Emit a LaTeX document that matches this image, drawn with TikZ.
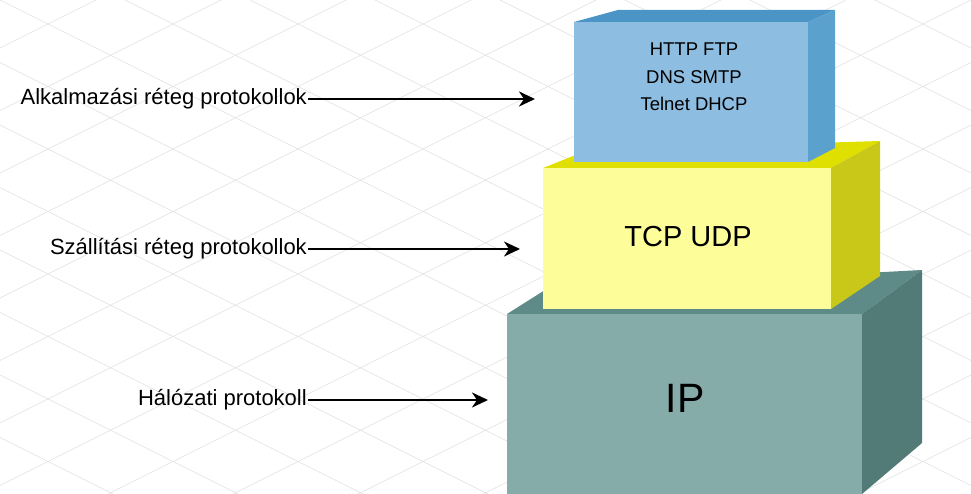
\documentclass[tikz,border=0pt]{standalone}
\usepackage{fontspec}
\setmainfont{Liberation Sans}
\usetikzlibrary{arrows.meta}
\definecolor{bluefront}{HTML}{8DBDE0}
\definecolor{bluetop}{HTML}{4A94C6}
\definecolor{blueside}{HTML}{5BA1CD}
\definecolor{yelfront}{HTML}{FDFD9A}
\definecolor{yeltop}{HTML}{E0E000}
\definecolor{yelside}{HTML}{C9C818}
\definecolor{tealfront}{HTML}{86ACAA}
\definecolor{tealtop}{HTML}{5E8B88}
\definecolor{tealside}{HTML}{527B78}

\begin{document}
\begin{tikzpicture}[
  x=1pt, y=-1pt,
  >=Stealth,
  lbl/.style={anchor=east, inner sep=1pt, font=\fontsize{22}{26}\selectfont},
  e/.style={-{Stealth[length=16pt,width=15pt,inset=5pt]}, line width=2.6pt},
  grid/.style={gray!25, line width=0.6pt}
]
\useasboundingbox (0,0) rectangle (971,494);
% background grid
\begin{scope}
  \clip (0,0) rectangle (971,494);
  \foreach \k in {-1250,-1125,...,1250}
  {
    \draw[grid] (\k,0) -- ++(1000,500);
    \draw[grid] (\k+971,0) -- ++(-1000,500);
  }
\end{scope}
% IP box
\fill[tealtop] (507,314) -- (545,290) -- (922,270) -- (862,314) -- cycle;
\fill[tealside] (862,314) -- (922,270) -- (922,443) -- (862,494) -- cycle;
\node[fill=tealfront, minimum width=355pt, minimum height=180pt, inner sep=0pt,
  anchor=north west, font=\fontsize{41}{46}\selectfont] (ip) at (507,314) {};
\node[font=\fontsize{41}{46}\selectfont] (iptxt) at (685,398) {IP};
% TCP/UDP box
\fill[yeltop] (543,168) -- (588,150) -- (880,141) -- (831,168) -- cycle;
\fill[yelside] (831,168) -- (880,141) -- (880,276) -- (831,309) -- cycle;
\node[fill=yelfront, minimum width=288pt, minimum height=141pt, inner sep=0pt,
  anchor=north west, font=\fontsize{29}{34}\selectfont] (tcp) at (543,168) {};
\node[font=\fontsize{29}{34}\selectfont] (tcptxt) at (688,237) {TCP UDP};
% application box
\fill[bluetop] (574,22) -- (618,10) -- (835,10) -- (808,22) -- cycle;
\fill[blueside] (808,22) -- (835,10) -- (835,148) -- (808,162) -- cycle;
\node[fill=bluefront, minimum width=234pt, minimum height=140pt, inner sep=0pt,
  anchor=north west] (app) at (574,22) {};
\node[align=center, font=\fontsize{18.5}{27.5}\selectfont] (apptxt) at (694,77)
  {HTTP FTP\\DNS SMTP\\Telnet DHCP};
% labels and arrows
\node[lbl] (lapp) at (308,99) {Alkalmazási réteg protokollok};
\node[lbl] (ltcp) at (308,249) {Szállítási réteg protokollok};
\node[lbl] (lip) at (308,400) {Hálózati protokoll};
\coordinate (tapp) at (535,99);
\coordinate (ttcp) at (520,249);
\coordinate (tip) at (488,400);
\draw[e] (lapp.east) -- (tapp);
\draw[e] (ltcp.east) -- (ttcp);
\draw[e] (lip.east) -- (tip);
\end{tikzpicture}
\end{document}
